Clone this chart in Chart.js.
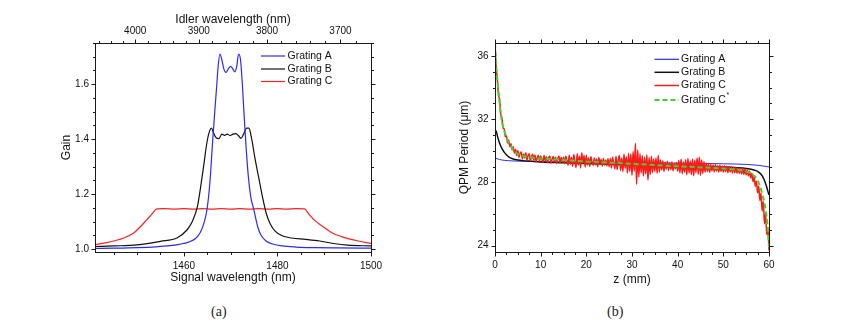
<!DOCTYPE html>
<html>
<head>
<meta charset="utf-8">
<script src="https://cdn.jsdelivr.net/npm/chart.js@4.4.1/dist/chart.umd.min.js"></script>
<style>
  html, body { margin: 0; padding: 0; background: #fff; }
  #wrap { position: relative; width: 848px; height: 326px; }
  .panel { position: absolute; top: 0; width: 424px; height: 300px; }
  .cap { position: absolute; top: 304px; line-height: 16px; font: 14px "Liberation Serif", "DejaVu Serif", serif; color: #222; }
</style>
</head>
<body>
<div id="wrap">
  <div class="panel" style="left:0"><canvas id="chartGain"></canvas></div>
  <div class="panel" style="left:424px"><canvas id="chartQpm"></canvas></div>
  <div class="cap" style="left:211px">(a)</div>
  <div class="cap" style="left:607px">(b)</div>
</div>
<script>
// ---- (a) gain vs signal wavelength, idler scale on top ----
const pumpNm = 1064;
const signalTicks = [1460, 1480, 1500];
const idlerTicks = [4000, 3900, 3800, 3700];
const gainTicks = [1.0, 1.2, 1.4, 1.6];

const aSignal = [1441, 1445, 1450, 1454, 1457, 1459, 1461, 1462.5, 1463.5, 1464.3, 1465.0, 1465.6, 1466.1, 1466.6, 1467.0, 1467.35, 1467.7, 1468.1, 1468.55, 1469.0, 1469.5, 1470.0, 1470.45, 1470.9, 1471.3, 1471.7, 1472.1, 1472.5, 1472.9, 1473.3, 1473.8, 1474.3, 1475.0, 1475.8, 1476.5, 1477.5, 1479, 1481, 1484, 1488, 1493, 1500];
const aGain   = [1.002, 1.003, 1.005, 1.008, 1.012, 1.017, 1.025, 1.038, 1.06, 1.095, 1.15, 1.25, 1.38, 1.50, 1.59, 1.67, 1.71, 1.69, 1.655, 1.643, 1.656, 1.665, 1.656, 1.645, 1.665, 1.71, 1.69, 1.60, 1.48, 1.37, 1.26, 1.19, 1.14, 1.08, 1.05, 1.03, 1.018, 1.011, 1.007, 1.005, 1.004, 1.003];

const bSignal = [1441, 1445, 1450, 1455, 1458.6, 1460.7, 1461.8, 1462.9, 1464.0, 1465.0, 1465.5, 1465.9, 1466.4, 1466.9, 1467.5, 1468.1, 1468.7, 1469.3, 1469.9, 1470.5, 1471.1, 1471.6, 1472.2, 1472.8, 1473.4, 1473.9, 1474.5, 1475.2, 1476, 1476.8, 1477.6, 1478.5, 1479.5, 1481, 1483, 1486, 1489, 1492, 1495, 1500];
const bGain   = [1.009, 1.011, 1.015, 1.028, 1.041, 1.07, 1.10, 1.155, 1.275, 1.395, 1.43, 1.44, 1.42, 1.405, 1.402, 1.418, 1.414, 1.418, 1.413, 1.418, 1.42, 1.414, 1.403, 1.42, 1.44, 1.44, 1.40, 1.33, 1.26, 1.19, 1.13, 1.09, 1.065, 1.048, 1.04, 1.035, 1.029, 1.02, 1.014, 1.011];

const cSignal = [1441, 1444, 1447, 1449.2, 1450.7, 1452, 1453.2, 1454.2, 1456, 1458, 1460, 1462, 1464, 1466, 1468, 1470, 1472, 1474, 1476, 1478, 1480, 1482, 1484, 1485.8, 1486.6, 1487.9, 1489, 1490.1, 1491.5, 1493.7, 1495.5, 1497.3, 1500];
const cGain   = [1.016, 1.025, 1.039, 1.057, 1.081, 1.105, 1.128, 1.146, 1.147, 1.145, 1.147, 1.145, 1.147, 1.145, 1.147, 1.145, 1.147, 1.145, 1.147, 1.145, 1.147, 1.145, 1.147, 1.146, 1.13, 1.105, 1.09, 1.077, 1.06, 1.045, 1.036, 1.029, 1.02];

// ---- (b) QPM period along the crystal ----
const zTicks = [0, 10, 20, 30, 40, 50, 60];
const periodTicks = [24, 28, 32, 36];

const zA = [0, 1, 2, 4, 7, 10, 20, 30, 40, 50, 55, 58, 60];
const periodA = [29.55, 29.45, 29.4, 29.36, 29.33, 29.31, 29.28, 29.25, 29.22, 29.18, 29.14, 29.07, 28.98];

const zB = [0, 0.3, 0.6, 1.0, 1.5, 2.0, 2.5, 3, 4, 5, 6, 8, 10, 15, 20, 25, 30, 35, 40, 45, 50, 53, 55, 56.5, 57.5, 58.3, 58.9, 59.4, 59.7, 60];
const periodB = [31.35, 31.2, 30.85, 30.5, 30.15, 29.92, 29.75, 29.62, 29.48, 29.42, 29.38, 29.34, 29.3, 29.25, 29.2, 29.15, 29.1, 29.07, 29.03, 29.0, 28.97, 28.93, 28.88, 28.8, 28.7, 28.5, 28.2, 27.8, 27.5, 27.2];

// measured grating C, sampled every 0.25 mm
const zStepC = 0.25;
const periodC = [
  36.80, 35.30, 34.60, 33.55, 33.25, 32.35, 32.10, 31.45, 31.40, 30.90, 30.95, 30.50, 30.68, 30.25, 30.45, 30.05, 30.25, 29.85, 30.10, 29.70,
  30.02, 29.58, 29.85, 29.92, 29.48, 29.80, 29.55, 29.88, 29.42, 29.70, 29.82, 29.36, 29.65, 29.78, 29.40, 29.74, 29.30, 29.55, 29.72, 29.34,
  29.68, 29.45, 29.26, 29.70, 29.38, 29.62, 29.25, 29.58, 29.66, 29.22, 29.48, 29.64, 29.30, 29.60, 29.20, 29.52, 29.68, 29.24, 29.58, 29.28,
  29.60, 29.18, 29.66, 29.40, 29.08, 29.72, 29.15, 29.58, 29.02, 29.76, 29.30, 28.95, 29.82, 29.10, 29.65, 28.92, 29.88, 29.20, 29.70, 28.98,
  29.72, 29.10, 29.55, 29.02, 29.62, 29.30, 29.08, 29.55, 29.12, 29.48, 29.00, 29.58, 29.18, 29.45, 29.04, 29.52, 29.10, 29.42, 29.06, 29.50,
  29.00, 29.52, 28.92, 29.60, 29.20, 28.86, 29.66, 28.82, 29.45, 29.70, 28.75, 29.55, 28.68, 29.78, 28.90, 29.62, 28.60, 29.85, 28.70, 29.80,
  28.45, 29.95, 28.70, 30.48, 27.88, 30.05, 28.35, 29.82, 28.60, 29.70, 28.40, 29.60, 28.55, 29.75, 28.15, 29.58, 28.50, 29.65, 28.62, 29.48,
  28.70, 29.55, 28.58, 29.72, 28.66, 29.42, 28.80, 29.36, 28.70, 29.28, 28.85, 29.34, 28.76, 29.25, 28.82, 29.30, 28.74, 29.22, 28.86, 29.26,
  28.72, 29.38, 28.62, 29.46, 28.55, 29.30, 28.66, 29.44, 28.48, 29.52, 28.60, 29.36, 28.50, 29.48, 28.42, 29.40, 28.62, 29.55, 28.52, 29.60,
  28.45, 29.42, 28.58, 29.32, 28.66, 29.22, 28.70, 29.18, 28.64, 29.14, 28.74, 29.10, 28.68, 29.12, 28.72, 29.06, 28.66, 29.08, 28.70, 29.04,
  28.66, 29.05, 28.68, 29.02, 28.62, 29.00, 28.66, 28.98, 28.60, 28.96, 28.62, 28.94, 28.58, 28.92, 28.56, 28.90, 28.54, 28.88, 28.50, 28.86,
  28.48, 28.80, 28.40, 28.72, 28.28, 28.58, 28.05, 28.38, 27.75, 28.08, 27.35, 27.78, 26.85, 27.32, 26.20, 26.80, 25.40, 26.05, 24.70, 25.15,
  23.70
];

const zCs = [0, 0.36, 0.73, 1.1, 1.46, 2.2, 3.3, 4.75, 7.7, 13.5, 20, 30, 40, 50, 53, 55, 56, 57, 57.5, 58, 58.5, 59, 59.5, 59.75, 60];
const periodCs = [36.8, 34.9, 33.85, 32.8, 31.96, 31.12, 30.38, 29.85, 29.6, 29.45, 29.33, 29.18, 29.02, 28.88, 28.8, 28.7, 28.58, 28.35, 28.12, 27.78, 27.3, 26.7, 25.8, 25.0, 23.9];

const tickFont = { family: '"Liberation Sans", Arial, sans-serif', size: 10 };
const titleFont = { family: '"Liberation Sans", Arial, sans-serif', size: 12 };
const legendFont = '10.5px "Liberation Sans", Arial, sans-serif';
const ink = '#111';

const idlerToSignal = (idler) => 1 / (1 / pumpNm - 1 / idler);
const pts = (xs, ys) => xs.map((x, i) => ({ x, y: ys[i] }));
const range = (from, to, step) => {
  const out = [];
  for (let v = from; v <= to + 1e-9; v += step) out.push(+v.toFixed(4));
  return out;
};

// frame around the plot area plus outward major/minor tick marks
function frameTicks(marks) {
  return {
    id: 'frameTicks',
    afterDraw(chart) {
      const { ctx, chartArea: a } = chart;
      const L = Math.round(a.left) + 0.5, R = Math.round(a.right) + 0.5;
      const T = Math.round(a.top) + 0.5, B = Math.round(a.bottom) + 0.5;
      ctx.save();
      ctx.strokeStyle = '#1a1a1a';
      ctx.lineWidth = 1;
      ctx.strokeRect(L, T, R - L, B - T);
      ctx.beginPath();
      marks.forEach((m) => {
        const scale = chart.scales[m.scale];
        const put = (v, len) => {
          const p = Math.round(scale.getPixelForValue(v)) + 0.5;
          if (m.edge === 'bottom') { ctx.moveTo(p, B); ctx.lineTo(p, B + len); }
          if (m.edge === 'top') { ctx.moveTo(p, T); ctx.lineTo(p, T - len); }
          if (m.edge === 'left') { ctx.moveTo(L, p); ctx.lineTo(L - len, p); }
          if (m.edge === 'right') { ctx.moveTo(R, p); ctx.lineTo(R + len, p); }
        };
        m.minor.forEach((v) => { if (v >= scale.min && v <= scale.max) put(v, 2.5); });
        m.major.forEach((v) => put(v, 4));
      });
      ctx.stroke();
      ctx.restore();
    }
  };
}

// legend drawn inside the plot area, one row per dataset
function insideLegend(pos) {
  return {
    id: 'insideLegend',
    afterDraw(chart) {
      const { ctx } = chart;
      ctx.save();
      ctx.font = legendFont;
      ctx.textBaseline = 'middle';
      chart.data.datasets.forEach((ds, i) => {
        const y = pos.rows[i];
        ctx.strokeStyle = ds.borderColor;
        ctx.lineWidth = Math.max(ds.borderWidth, 1.2);
        ctx.setLineDash(ds.borderDash || []);
        ctx.beginPath();
        ctx.moveTo(pos.x0, y);
        ctx.lineTo(pos.x1, y);
        ctx.stroke();
        ctx.setLineDash([]);
        ctx.fillStyle = ink;
        const star = ds.label.endsWith('*');
        const text = star ? ds.label.slice(0, -1) : ds.label;
        ctx.fillText(text, pos.tx, y);
        if (star) {
          const w = ctx.measureText(text).width;
          ctx.font = '7px "Liberation Sans", Arial, sans-serif';
          ctx.fillText('*', pos.tx + w + 0.5, y - 5);
          ctx.font = legendFont;
        }
      });
      ctx.restore();
    }
  };
}

const line = (label, data, color, width, extra = {}) => Object.assign({
  label, data,
  borderColor: color,
  borderWidth: width,
  pointRadius: 0,
  fill: false,
  tension: 0.4,
  cubicInterpolationMode: 'monotone'
}, extra);

const axisBase = {
  type: 'linear',
  grid: { display: false, drawTicks: false },
  border: { display: false }
};

new Chart(document.getElementById('chartGain'), {
  type: 'line',
  data: {
    datasets: [
      line('Grating A', pts(aSignal, aGain), '#2a2aff', 1.2, { order: 1 }),
      line('Grating B', pts(bSignal, bGain), '#111111', 1.2, { order: 2 }),
      line('Grating C', pts(cSignal, cGain), '#ff2020', 1.2, { order: 3, tension: 0.2 })
    ]
  },
  options: {
    animation: false,
    responsive: true,
    maintainAspectRatio: false,
    events: [],
    layout: { padding: { left: 0, right: 53, top: 0, bottom: 0 } },
    plugins: { legend: { display: false }, tooltip: { enabled: false } },
    scales: {
      x: {
        ...axisBase, position: 'bottom', min: 1441, max: 1500,
        afterBuildTicks: (s) => { s.ticks = signalTicks.map((v) => ({ value: v })); },
        afterFit: (s) => { s.height = 48; },
        ticks: { color: ink, font: tickFont, padding: 8, maxRotation: 0, autoSkip: false, callback: (v) => String(v) },
        title: { display: true, text: 'Signal wavelength (nm)', color: ink, font: titleFont, padding: { top: 0, bottom: 15 } }
      },
      x2: {
        ...axisBase, position: 'top', min: 1441, max: 1500,
        afterBuildTicks: (s) => { s.ticks = idlerTicks.map((v) => ({ value: idlerToSignal(v) })); },
        afterFit: (s) => { s.height = 43; },
        ticks: { color: ink, font: tickFont, padding: 6, maxRotation: 0, autoSkip: false, callback: (v, i) => String(idlerTicks[i]) },
        title: { display: true, text: 'Idler wavelength (nm)', color: ink, font: titleFont, padding: { top: 12, bottom: 0 } }
      },
      y: {
        ...axisBase, position: 'left', min: 0.989, max: 1.75,
        afterBuildTicks: (s) => { s.ticks = gainTicks.map((v) => ({ value: v })); },
        afterFit: (s) => { s.width = 95; },
        ticks: { color: ink, font: tickFont, padding: 6, autoSkip: false, callback: (v) => v.toFixed(1) },
        title: { display: true, text: 'Gain', color: ink, font: titleFont, padding: { top: 59, bottom: 0 } }
      }
    }
  },
  plugins: [
    frameTicks([
      { scale: 'x', edge: 'bottom', major: signalTicks, minor: range(1445, 1500, 5) },
      { scale: 'x2', edge: 'top', major: idlerTicks.map(idlerToSignal), minor: range(3680, 4060, 20).map(idlerToSignal) },
      { scale: 'y', edge: 'left', major: gainTicks, minor: range(1.0, 1.75, 0.05) },
      { scale: 'y', edge: 'right', major: gainTicks, minor: range(1.0, 1.75, 0.05) }
    ]),
    insideLegend({ x0: 261, x1: 285, tx: 287.5, rows: [56, 69, 81.5] })
  ]
});

new Chart(document.getElementById('chartQpm'), {
  type: 'line',
  data: {
    datasets: [
      line('Grating A', pts(zA, periodA), '#2a2aff', 1, { order: 4 }),
      line('Grating B', pts(zB, periodB), '#111111', 1.5, { order: 3 }),
      line('Grating C', periodC.map((p, i) => ({ x: i * zStepC, y: p })), '#ff1a1a', 1.5, { order: 2, tension: 0 }),
      line('Grating C*', pts(zCs, periodCs), '#3fd52c', 2, { order: 1, borderDash: [5, 3] })
    ]
  },
  options: {
    animation: false,
    responsive: true,
    maintainAspectRatio: false,
    events: [],
    layout: { padding: { left: 0, right: 79, top: 0, bottom: 0 } },
    plugins: { legend: { display: false }, tooltip: { enabled: false } },
    scales: {
      x: {
        ...axisBase, position: 'bottom', min: 0, max: 60,
        afterBuildTicks: (s) => { s.ticks = zTicks.map((v) => ({ value: v })); },
        afterFit: (s) => { s.height = 48; },
        ticks: { color: ink, font: tickFont, padding: 7, maxRotation: 0, autoSkip: false, callback: (v) => String(v) },
        title: { display: true, text: 'z (mm)', color: ink, font: titleFont, padding: { top: 0, bottom: 13 } }
      },
      xTop: {
        ...axisBase, position: 'top', min: 0, max: 60,
        ticks: { display: false },
        afterFit: (s) => { s.height = 43; }
      },
      y: {
        ...axisBase, position: 'left', min: 23.6, max: 36.82,
        afterBuildTicks: (s) => { s.ticks = periodTicks.map((v) => ({ value: v })); },
        afterFit: (s) => { s.width = 71; },
        ticks: { color: ink, font: tickFont, padding: 6.5, autoSkip: false, callback: (v) => String(v) },
        title: { display: true, text: 'QPM Period (μm)', color: ink, font: titleFont, padding: { top: 33, bottom: 0 } }
      }
    }
  },
  plugins: [
    frameTicks([
      { scale: 'x', edge: 'bottom', major: zTicks, minor: range(0, 60, 2.5) },
      { scale: 'x', edge: 'top', major: zTicks, minor: range(0, 60, 2.5) },
      { scale: 'y', edge: 'left', major: periodTicks, minor: range(24, 36, 1) },
      { scale: 'y', edge: 'right', major: periodTicks, minor: range(24, 36, 1) }
    ]),
    insideLegend({ x0: 230.5, x1: 255, tx: 257, rows: [59.3, 72.3, 85.5, 100] })
  ]
});
</script>
</body>
</html>
